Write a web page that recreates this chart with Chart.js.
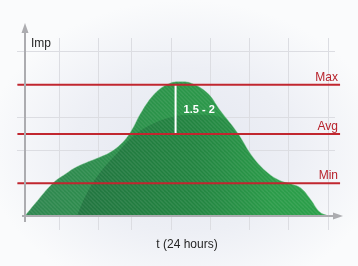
<!DOCTYPE html>
<html>
<head>
<meta charset="utf-8">
<script src="https://cdn.jsdelivr.net/npm/chart.js@4/dist/chart.umd.min.js"></script>
<style>
  html, body { margin: 0; padding: 0; }
  body {
    width: 358px; height: 266px; overflow: hidden;
    background: radial-gradient(ellipse 200px 150px at 185px 150px, #e4e7f0 0%, #edeff5 55%, #fafbfc 100%);
  }
  #wrap { position: relative; width: 358px; height: 266px; }
</style>
</head>
<body>
<div id="wrap"><canvas id="chart"></canvas></div>
<script>
// time in hours, load in grid units
const hours = [0, 0.8, 2.2, 3.2, 4.1, 5.9, 6.7, 7.5, 8.3, 9.3, 10.4, 11.5, 12.3, 13.1, 14.4, 15.4, 16.8, 18.0, 19.2, 20.2, 21.0, 21.8, 22.6, 23.3, 24.0];
const load  = [0, 0.38, 1.0, 1.28, 1.5, 1.79, 1.93, 2.16, 2.53, 3.23, 3.78, 4.05, 4.09, 4.05, 3.75, 3.23, 2.53, 1.80, 1.31, 1.07, 0.98, 0.85, 0.49, 0.12, 0];

// darker inner shade (gloss) of the same hill
const shadeHours = [4.1, 4.9, 5.9, 7.3, 8.5, 9.9, 11.7, 13.3, 15.0, 16.1, 16.8, 18.0, 19.2, 20.2, 21.0, 21.8, 22.6, 23.3, 24.0];
const shadeLoad  = [0, 0.70, 1.31, 1.92, 2.41, 2.77, 3.02, 3.08, 3.05, 2.87, 2.53, 1.80, 1.31, 1.07, 0.98, 0.85, 0.49, 0.12, 0];

const refNames  = ['Max', 'Avg', 'Min'];
const refLevels = [4, 2.5, 1];
const refFrom = -0.6, refTo = 24.9;

const spanHour = 11.9;          // the white 1.5 - 2 marker
const spanLabel = '1.5 - 2';

// grid positions as drawn (uneven in the original)
const xTicks = [2.7, 5.8, 8.4, 11.55, 14.65, 17.75, 20.85, 24];
const yTicks = [1, 2, 3, 4, 5];
const xTitle = 't (24 hours)';
const yTitle = 'Imp';

const pts = (xs, ys) => xs.map((x, i) => ({ x: x, y: ys[i] }));

// diagonal stripes
const tile = document.createElement('canvas');
tile.width = 8; tile.height = 8;
const tc = tile.getContext('2d');
tc.strokeStyle = 'rgba(255,255,255,0.09)';
tc.lineWidth = 1.4;
for (let i = -8; i <= 16; i += 4) {
  tc.beginPath(); tc.moveTo(i, 0); tc.lineTo(i + 8, 8); tc.stroke();
}
const stripes = tc.createPattern(tile, 'repeat');

function hillFill(ctx) {
  const a = ctx.chart.chartArea;
  if (!a) return '#2a9548';
  const g = ctx.chart.ctx.createLinearGradient(a.left, 0, a.right, 0);
  g.addColorStop(0, '#2f8650');
  g.addColorStop(0.45, '#2a9449');
  g.addColorStop(1, '#2aa049');
  return g;
}
function shadeFill(ctx) {
  const a = ctx.chart.chartArea;
  if (!a) return 'rgba(10,70,30,0.3)';
  const g = ctx.chart.ctx.createLinearGradient(a.left, 0, a.right, 0);
  g.addColorStop(0.15, 'rgba(8,70,35,0.32)');
  g.addColorStop(0.55, 'rgba(8,70,35,0.22)');
  g.addColorStop(0.8, 'rgba(8,70,35,0.0)');
  return g;
}

const datasets = [];
refLevels.forEach((lv, i) => {
  datasets.push({
    label: refNames[i], data: [{ x: refFrom, y: lv }, { x: refTo, y: lv }],
    borderColor: '#c1262f', borderWidth: 2, pointRadius: 0, fill: false, clip: false, order: 0
  });
});
datasets.push({
  label: spanLabel, data: [{ x: spanHour, y: refLevels[0] }, { x: spanHour, y: refLevels[1] }],
  borderColor: '#ffffff', borderWidth: 2, pointRadius: 0, fill: false, order: 0
});
datasets.push({
  label: 'stripes', data: pts(hours, load), backgroundColor: stripes,
  borderWidth: 0, pointRadius: 0, fill: 'origin', tension: 0.4, order: 1
});
datasets.push({
  label: 'shade', data: pts(shadeHours, shadeLoad), backgroundColor: shadeFill,
  borderWidth: 0, pointRadius: 0, fill: 'origin', tension: 0.4, order: 2
});
datasets.push({
  label: 'load', data: pts(hours, load), backgroundColor: hillFill,
  borderColor: 'rgba(120,200,140,0.5)', borderWidth: 0.8, pointRadius: 0, fill: 'origin', tension: 0.4, order: 3
});

const decor = {
  id: 'decor',
  afterDatasetsDraw(chart) {
    const c = chart.ctx, x = chart.scales.x, y = chart.scales.y;
    const x0 = x.getPixelForValue(0), y0 = y.getPixelForValue(0);
    c.save();
    c.strokeStyle = '#acacb0'; c.fillStyle = '#acacb0'; c.lineWidth = 2;
    // y axis with arrow
    c.beginPath(); c.moveTo(x0, y0 + 6); c.lineTo(x0, 31); c.stroke();
    c.beginPath(); c.moveTo(x0, 23); c.lineTo(x0 - 3.5, 33); c.lineTo(x0 + 3.5, 33); c.closePath(); c.fill();
    // x axis with arrow
    c.beginPath(); c.moveTo(x0 - 3, y0); c.lineTo(335, y0); c.stroke();
    c.beginPath(); c.moveTo(343, y0); c.lineTo(333, y0 - 3.5); c.lineTo(333, y0 + 3.5); c.closePath(); c.fill();

    c.font = '12px "Liberation Sans", Arial, sans-serif';
    c.fillStyle = '#262626';
    c.textAlign = 'left';
    c.fillText(yTitle, x0 + 6, 47);
    c.textAlign = 'center';
    c.fillText(xTitle, 187, 248);

    c.fillStyle = '#b7222b';
    c.textAlign = 'right';
    refLevels.forEach((lv, i) => c.fillText(refNames[i], 338, y.getPixelForValue(lv) - 4));

    c.fillStyle = '#ffffff';
    c.textAlign = 'left';
    c.font = 'bold 11px "Liberation Sans", Arial, sans-serif';
    c.fillText(spanLabel, x.getPixelForValue(spanHour) + 8, 113);
    c.restore();
  }
};

new Chart(document.getElementById('chart'), {
  type: 'line',
  data: { datasets: datasets },
  options: {
    responsive: true,
    maintainAspectRatio: false,
    animation: false,
    layout: { padding: { left: 17, right: 23, top: 38, bottom: 36 } },
    plugins: { legend: { display: false }, tooltip: { enabled: false } },
    scales: {
      x: {
        type: 'linear', min: 0, max: 24.5,
        afterBuildTicks: s => { s.ticks = xTicks.map(v => ({ value: v })); },
        ticks: { display: false },
        grid: { color: '#dcdde2', lineWidth: 1, tickLength: 14 },
        border: { display: false }
      },
      y: {
        min: 0, max: 5.42,
        afterBuildTicks: s => { s.ticks = yTicks.map(v => ({ value: v })); },
        ticks: { display: false },
        grid: { color: '#dcdde2', lineWidth: 1, tickLength: 8 },
        border: { display: false }
      }
    }
  },
  plugins: [decor]
});
</script>
</body>
</html>
